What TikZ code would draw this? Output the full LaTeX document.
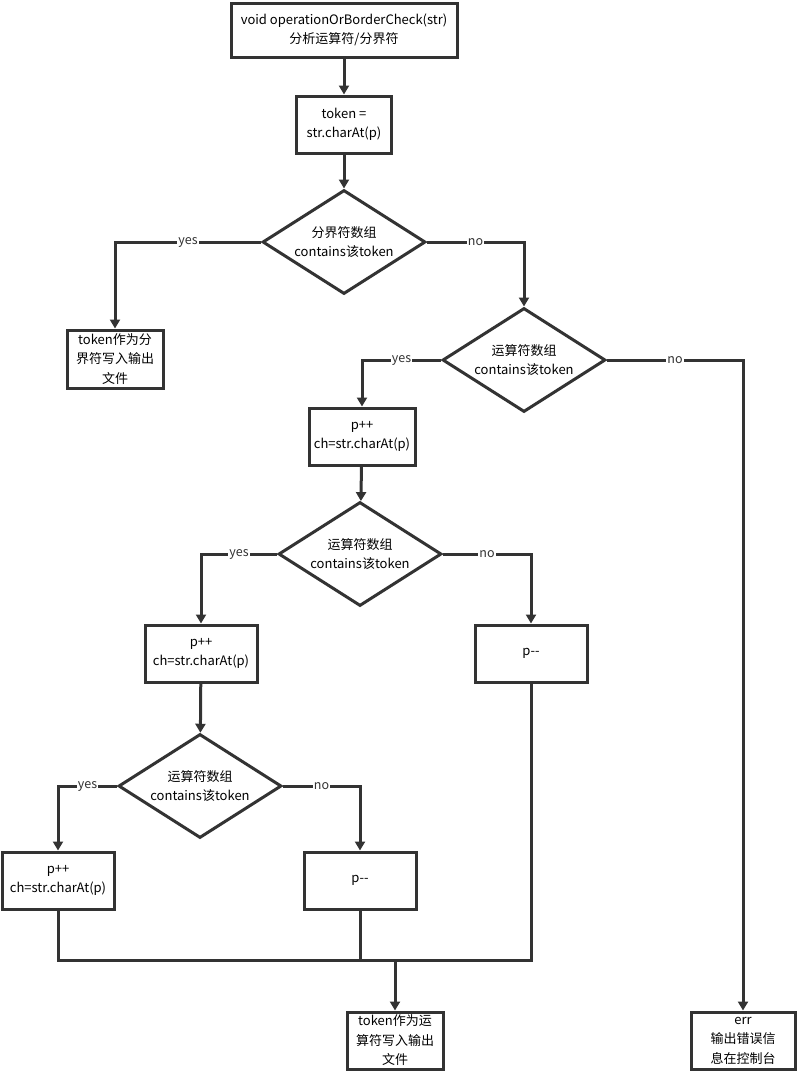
\documentclass[tikz,border=0pt]{standalone}
\usepackage{fontspec}
\setmainfont{Noto Sans CJK SC}
\usetikzlibrary{arrows.meta,positioning,shapes.geometric}
\definecolor{linegray}{RGB}{51,51,51}
\tikzset{
  block/.style={rectangle, draw=linegray, line width=3pt, fill=white, inner sep=0pt,
                minimum width=112pt, minimum height=57pt, align=center,
                font=\fontsize{13}{19.5}\selectfont},
  decision/.style={diamond, aspect=1.57, draw=linegray, line width=3pt, fill=white, inner sep=0pt,
                   minimum width=163pt, minimum height=104pt, align=center,
                   font=\fontsize{13}{19.5}\selectfont},
  arrow/.style={-{Triangle[length=9pt,width=10pt]}, line width=3pt, linegray},
  line/.style={line width=3pt, linegray},
  label/.style={fill=white, inner sep=1pt, font=\fontsize{12.5}{14}\selectfont},
}
\begin{document}
\begin{tikzpicture}[x=1pt, y=-1pt, node distance=36pt]
\useasboundingbox (0,0) rectangle (797,1074);
% main chain
\node[block, minimum width=226pt, minimum height=54pt] (op) at (344,30)
  {void operationOrBorderCheck(str)\\分析运算符/分界符};
\node[block, minimum width=95pt, below=of op] (token) {token =\\str.charAt(p)};
\node[decision] (isborder) at (344,242) {分界符数组\\contains该token};
\node[block, minimum width=96pt, minimum height=58pt] (borderout) at (115,359)
  {token作为分\\界符写入输出\\文件};
\node[decision] (isop) at (524,360) {运算符数组\\contains该token};

% operator branch
\node[block, minimum width=106pt] (next1) at (362,436.5) {p++\\ch=str.charAt(p)};
\node[decision] (isop2) at (360,554) {运算符数组\\contains该token};
\node[block] (next2) at (201,653.5) {p++\\ch=str.charAt(p)};
\node[block] (back1) at (531,653.5) {p-{}-};
\node[decision] (isop3) at (200,786) {运算符数组\\contains该token};
\node[block] (next3) at (58,880.5) {p++\\ch=str.charAt(p)};
\node[block] (back2) at (360,880.5) {p-{}-};
\node[block, minimum width=96pt] (opout) at (395,1040.5) {token作为运\\算符写入输出\\文件};
\node[block, minimum width=104pt] (err) at (743,1040.5) {err\\输出错误信\\息在控制台};

\draw[arrow] (op) -- (token);
\draw[arrow] (token) -- (isborder);
\draw[arrow] (isborder.west) -| node[label, pos=0.25] {yes} (borderout.north);
\draw[arrow] (isborder.east) -| node[label, pos=0.25] {no} (isop.north);
\draw[arrow] (isop.west) -| node[label, pos=0.25] {yes} (next1.north);
\draw[arrow] (isop.east) -| node[label, pos=0.25] {no} (err.north);
\draw[arrow] (next1) -- (isop2);
\draw[arrow] (isop2.west) -| node[label, pos=0.25] {yes} (next2.north);
\draw[arrow] (isop2.east) -| node[label, pos=0.25] {no} (back1.north);
\draw[arrow] (next2) -- (isop3);
\draw[arrow] (isop3.west) -| node[label, pos=0.25] {yes} (next3.north);
\draw[arrow] (isop3.east) -| node[label, pos=0.25] {no} (back2.north);

% merge
\coordinate (join) at (opout.north |- 0,960);
\draw[line] (next3.south) |- (back1.south |- join) -- (back1.south);
\draw[line] (back2.south) -- (back2.south |- join);
\draw[arrow] (join) -- (opout.north);
\end{tikzpicture}
\end{document}
